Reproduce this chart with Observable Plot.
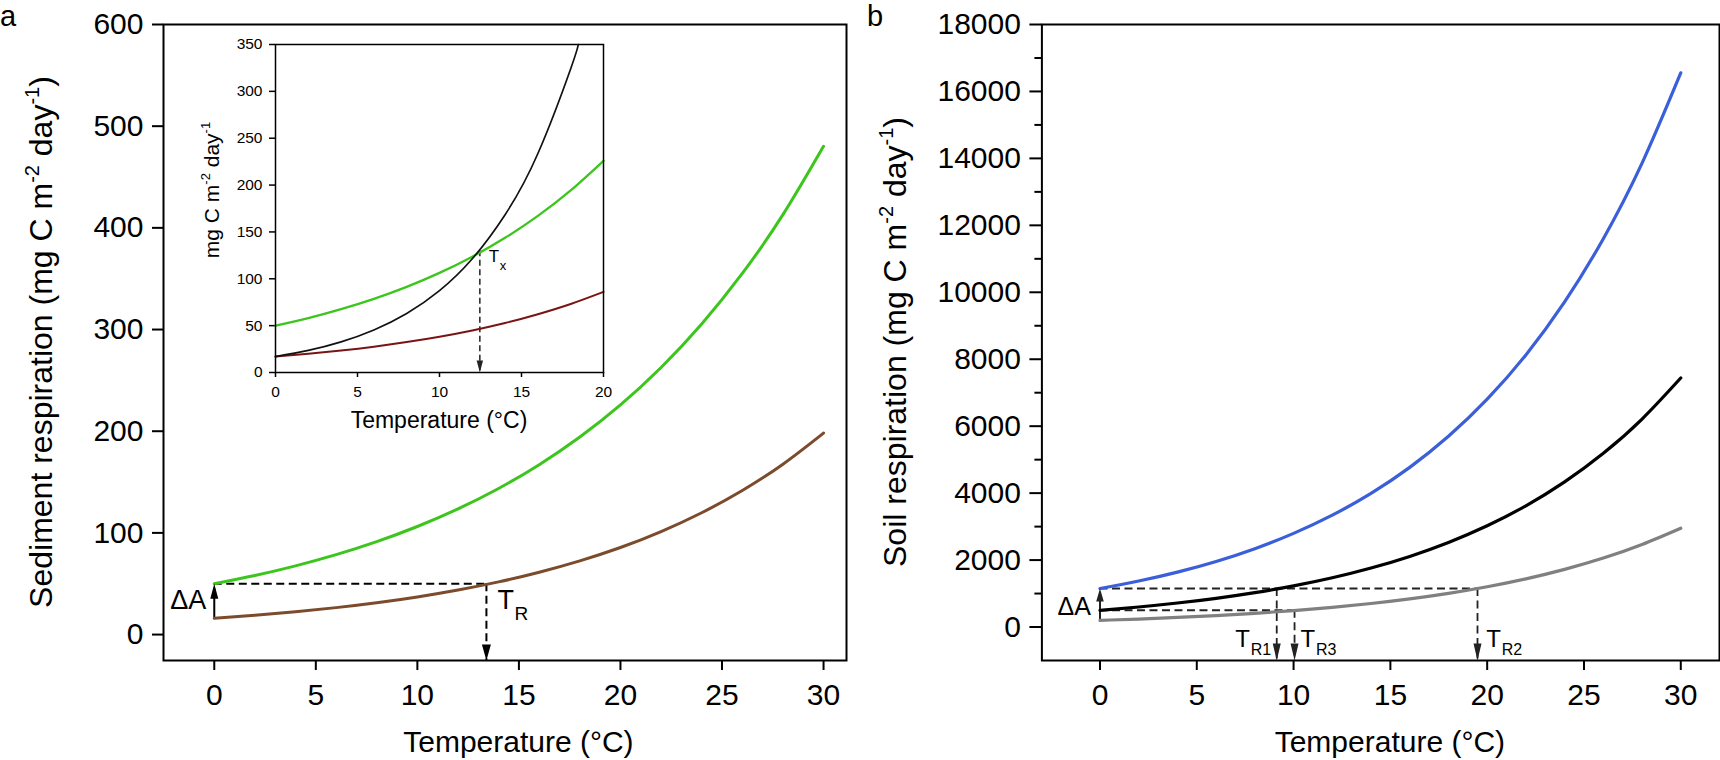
<!DOCTYPE html>
<html>
<head>
<meta charset="utf-8">
<script src="https://cdn.jsdelivr.net/npm/d3@7"></script>
<script src="https://cdn.jsdelivr.net/npm/@observablehq/plot@0.6"></script>
<style>
  body { margin: 0; background: #ffffff; }
  #fig { position: relative; width: 1720px; height: 760px; overflow: hidden; background: #ffffff;
         font-family: "Liberation Sans", Arial, Helvetica, sans-serif; }
  #fig svg { position: absolute; }
</style>
</head>
<body>
<div id="fig"></div>
<script>
// ---------------- data ----------------
// Panel a: sediment respiration (mg C m-2 day-1) vs temperature (°C)
const temps = [0, 2, 4, 6, 8, 10, 12, 14, 16, 18, 20, 22, 24, 26, 28, 30];
const sedGreen = [50, 58.1, 67.6, 78.6, 91.4, 106.3, 123.6, 143.7, 167.1, 194.3, 225.9, 262.7, 305.5, 355.2, 413.0, 480.3];
const sedBrown = [16, 18.9, 22.4, 26.5, 31.3, 37.0, 43.8, 51.8, 61.3, 72.5, 85.6, 101.3, 119.8, 141.7, 167.6, 198.2];

// Inset of panel a
const insetTemps = [0, 2, 4, 6, 8, 10, 12, 14, 16, 18, 20];
const insetGreen = [50, 58.1, 67.6, 78.6, 91.4, 106.3, 123.6, 143.7, 167.1, 194.3, 225.9];
const insetRed = [17, 20.0, 23.5, 27.6, 32.5, 38.2, 44.9, 52.8, 62.2, 73.1, 86.0];
const insetBlackTemps = [0, 2, 4, 6, 8, 10, 12, 14, 16, 18, 18.46];
const insetBlack = [17, 23.6, 32.7, 45.4, 63.0, 87.4, 121.4, 168.4, 233.7, 324.2, 350];

// Panel b: soil respiration (mg C m-2 day-1) vs temperature (°C)
const soilBlue = [1150, 1374, 1641, 1960, 2342, 2798, 3342, 3992, 4769, 5697, 6806, 8130, 9712, 11602, 13859, 16556];
const soilBlack = [500, 599, 717, 858, 1027, 1230, 1472, 1763, 2110, 2527, 3025, 3621, 4336, 5191, 6214, 7440];
const soilGray = [200, 239, 286, 343, 410, 491, 587, 702, 840, 1005, 1203, 1439, 1722, 2060, 2465, 2950];

// Annotations (data units)
const deltaA_a = [16, 50];            // ΔA arrow in panel a (brown start -> green start)
const TR_a = [13.4];                   // T_R in panel a
const deltaA_b = [200, 1150];          // ΔA arrow in panel b
const levels_b = [1150, 500];          // blue start, black start
const TR_b = [9.13, 10.05, 19.5];      // T_R1, T_R3, T_R2
const TR_b_names = ["R1", "R3", "R2"];
const Tx_inset = [12.46, 130];         // crossing point in inset

// Ticks
const xTicks = [0, 5, 10, 15, 20, 25, 30];
const yTicksA = [0, 100, 200, 300, 400, 500, 600];
const yTicksB = [0, 2000, 4000, 6000, 8000, 10000, 12000, 14000, 16000, 18000];
const yMinorB = [1000, 3000, 5000, 7000, 9000, 11000, 13000, 15000, 17000];
const xTicksInset = [0, 5, 10, 15, 20];
const yTicksInset = [0, 50, 100, 150, 200, 250, 300, 350];

// ---------------- styling ----------------
const FONT = '"Liberation Sans", Arial, Helvetica, sans-serif';
const C = { green: "#3cc51d", brown: "#7b4b2c", red: "#7a1414", blue: "#3a5fd8", gray: "#808080", black: "#000000" };
const rows = (xs, ys) => xs.map((x, i) => ({ x, y: ys[i] }));
const head = (half) => ({
  draw(ctx, l) { ctx.moveTo(0, -l); ctx.lineTo(-half, 0); ctx.lineTo(half, 0); ctx.closePath(); }
});
const fig = document.getElementById("fig");

function place(svg, left, top) {
  svg.style.position = "absolute";
  svg.style.left = left + "px";
  svg.style.top = top + "px";
  svg.style.maxWidth = "none";
  fig.appendChild(svg);
}
function addText(svg, x, y, parts, size, opts = {}) {
  const t = d3.select(svg).append("text")
    .attr("x", x).attr("y", y)
    .attr("font-size", size)
    .attr("font-family", FONT)
    .attr("fill", "black")
    .attr("text-anchor", opts.anchor || "middle");
  if (opts.rotate) t.attr("transform", `rotate(${opts.rotate},${x},${y})`);
  const sup = Math.round(size * 0.62);
  const shift = Math.round(size * 0.42);
  let pending = 0;
  parts.forEach(p => {
    if (typeof p === "string") {
      const s = t.append("tspan").text(p);
      if (pending) { s.attr("dy", pending); pending = 0; }
    } else {
      t.append("tspan").attr("font-size", sup).attr("dy", -shift).text(p.sup);
      pending = shift;
    }
  });
  return t;
}

// ---------------- panel a ----------------
const yBotA = -25.5;
const pa = Plot.plot({
  width: 870, height: 760,
  marginLeft: 163, marginRight: 24, marginTop: 24, marginBottom: 100,
  x: { domain: [-2.5, 31.13] },
  y: { domain: [yBotA, 600] },
  style: { fontFamily: FONT, fontSize: "30px", color: "black", background: "transparent", overflow: "visible" },
  marks: [
    Plot.axisX({ ticks: xTicks, tickSize: 10, tickPadding: 13, strokeWidth: 2, tickFormat: "d", label: null, fontSize: 30 }),
    Plot.axisY({ ticks: yTicksA, tickSize: 11, tickPadding: 9, strokeWidth: 2, tickFormat: "d", label: null, fontSize: 30 }),
    Plot.ruleY([deltaA_a[1]], { x1: 0, x2: TR_a[0], stroke: "black", strokeWidth: 2, strokeDasharray: "8,4.5" }),
    Plot.ruleX(TR_a, { y1: deltaA_a[1], y2: yBotA, stroke: "black", strokeWidth: 2, strokeDasharray: "8,4.5" }),
    Plot.ruleX([0], { y1: deltaA_a[0], y2: deltaA_a[1] - 5, stroke: "black", strokeWidth: 2 }),
    Plot.line(rows(temps, sedBrown), { x: "x", y: "y", stroke: C.brown, strokeWidth: 3, curve: "natural" }),
    Plot.line(rows(temps, sedGreen), { x: "x", y: "y", stroke: C.green, strokeWidth: 3, curve: "natural" }),
    Plot.vector([{ x: 0, y: deltaA_a[1] }], { x: "x", y: "y", length: 15, rotate: 0, anchor: "end", shape: head(4), fill: "black", stroke: "none" }),
    Plot.vector([{ x: TR_a[0], y: yBotA }], { x: "x", y: "y", length: 16, rotate: 180, anchor: "end", shape: head(4.5), fill: "black", stroke: "none" }),
    Plot.text([{ x: 0, y: 33.4 }], { x: "x", y: "y", text: () => "ΔA", textAnchor: "end", lineAnchor: "middle", dx: -8, fontSize: 27, fill: "black" }),
    Plot.text([{ x: TR_a[0], y: 33.4 }], { x: "x", y: "y", text: () => "T", textAnchor: "start", lineAnchor: "middle", dx: 11, fontSize: 27, fill: "black" }),
    Plot.text([{ x: TR_a[0], y: 20.2 }], { x: "x", y: "y", text: () => "R", textAnchor: "start", lineAnchor: "middle", dx: 28, fontSize: 19, fill: "black" }),
    Plot.frame({ stroke: "black", strokeWidth: 2 })
  ]
});
place(pa, 0, 0);
{
  const sx = pa.scale("x");
  addText(pa, sx.apply(15), 752, ["Temperature (°C)"], 30);
  addText(pa, 52, 342, ["Sediment respiration (mg C m", { sup: "-2" }, " day", { sup: "-1" }, ")"], 32, { rotate: -90 });
  addText(pa, 0, 26, ["a"], 29, { anchor: "start" });
}

// ---------------- inset ----------------
const pi = Plot.plot({
  width: 430, height: 420,
  marginLeft: 85, marginRight: 17, marginTop: 24, marginBottom: 68,
  x: { domain: [0, 20] },
  y: { domain: [0, 350] },
  style: { fontFamily: FONT, fontSize: "15.5px", color: "black", background: "transparent", overflow: "visible" },
  marks: [
    Plot.axisX({ ticks: xTicksInset, tickSize: 5, tickPadding: 8, strokeWidth: 1.5, tickFormat: "d", label: null, fontSize: 15.5 }),
    Plot.axisY({ ticks: yTicksInset, tickSize: 6, tickPadding: 7, strokeWidth: 1.5, tickFormat: "d", label: null, fontSize: 15.5 }),
    Plot.ruleX([Tx_inset[0]], { y1: Tx_inset[1], y2: 0, stroke: "#222", strokeWidth: 1.5, strokeDasharray: "6,3.5" }),
    Plot.line(rows(insetTemps, insetRed), { x: "x", y: "y", stroke: C.red, strokeWidth: 2, curve: "natural" }),
    Plot.line(rows(insetTemps, insetGreen), { x: "x", y: "y", stroke: C.green, strokeWidth: 2.3, curve: "natural" }),
    Plot.line(rows(insetBlackTemps, insetBlack), { x: "x", y: "y", stroke: "#111", strokeWidth: 1.7, curve: "natural" }),
    Plot.vector([{ x: Tx_inset[0], y: 0 }], { x: "x", y: "y", length: 12, rotate: 180, anchor: "end", shape: head(3.2), fill: "#222", stroke: "none" }),
    Plot.text([{ x: Tx_inset[0], y: 124 }], { x: "x", y: "y", text: () => "T", textAnchor: "start", lineAnchor: "middle", dx: 9, fontSize: 17, fill: "black" }),
    Plot.text([{ x: Tx_inset[0], y: 114 }], { x: "x", y: "y", text: () => "x", textAnchor: "start", lineAnchor: "middle", dx: 20, fontSize: 13, fill: "black" }),
    Plot.frame({ stroke: "black", strokeWidth: 1.5 })
  ]
});
place(pi, 190, 20);
{
  const sx = pi.scale("x");
  addText(pi, sx.apply(10), 408, ["Temperature (°C)"], 23);
  addText(pi, 29, 170, ["mg C m", { sup: "-2" }, " day", { sup: "-1" }], 21, { rotate: -90 });
}

// ---------------- panel b ----------------
const yBotB = -1000;
const pb = Plot.plot({
  width: 860, height: 760,
  marginLeft: 181.4, marginRight: 1, marginTop: 24, marginBottom: 100,
  x: { domain: [-3, 32] },
  y: { domain: [yBotB, 18000] },
  style: { fontFamily: FONT, fontSize: "30px", color: "black", background: "transparent", overflow: "visible" },
  marks: [
    Plot.axisX({ ticks: xTicks, tickSize: 10, tickPadding: 13, strokeWidth: 2, tickFormat: "d", label: null, fontSize: 30 }),
    Plot.axisY({ ticks: yTicksB, tickSize: 12, tickPadding: 9, strokeWidth: 2, tickFormat: "d", label: null, fontSize: 30 }),
    Plot.axisY({ ticks: yMinorB, tickSize: 7, strokeWidth: 2, tickFormat: () => "", label: null }),
    Plot.ruleY([levels_b[0]], { x1: 0, x2: TR_b[2], stroke: "#222", strokeWidth: 2, strokeDasharray: "8,4.5" }),
    Plot.ruleY([levels_b[1]], { x1: 0, x2: TR_b[1], stroke: "#222", strokeWidth: 2, strokeDasharray: "8,4.5" }),
    Plot.ruleX([TR_b[0], TR_b[2]], { y1: levels_b[0], y2: yBotB, stroke: "#222", strokeWidth: 1.8, strokeDasharray: "8,4.5" }),
    Plot.ruleX([TR_b[1]], { y1: levels_b[1], y2: yBotB, stroke: "#222", strokeWidth: 1.8, strokeDasharray: "8,4.5" }),
    Plot.ruleX([0], { y1: deltaA_b[0], y2: deltaA_b[1] - 150, stroke: "#222", strokeWidth: 2 }),
    Plot.line(rows(temps, soilGray), { x: "x", y: "y", stroke: C.gray, strokeWidth: 3.2, curve: "natural" }),
    Plot.line(rows(temps, soilBlack), { x: "x", y: "y", stroke: C.black, strokeWidth: 3.2, curve: "natural" }),
    Plot.line(rows(temps, soilBlue), { x: "x", y: "y", stroke: C.blue, strokeWidth: 3.2, curve: "natural" }),
    Plot.vector([{ x: 0, y: deltaA_b[1] }], { x: "x", y: "y", length: 13, rotate: 0, anchor: "end", shape: head(3.8), fill: "#222", stroke: "none" }),
    Plot.vector(TR_b.map(t => ({ x: t, y: yBotB })), { x: "x", y: "y", length: 17, rotate: 180, anchor: "end", shape: head(4), fill: "#222", stroke: "none" }),
    Plot.text([{ x: 0, y: 600 }], { x: "x", y: "y", text: () => "ΔA", textAnchor: "end", lineAnchor: "middle", dx: -9, fontSize: 25, fill: "black" }),
    Plot.frame({ stroke: "black", strokeWidth: 2 })
  ]
});
place(pb, 860, 0);
{
  const sx = pb.scale("x"), sy = pb.scale("y");
  const tOff = [-41, 6.5, 9.2];
  TR_b.forEach((t, i) => {
    const x0 = sx.apply(t) + tOff[i];
    addText(pb, x0, sy.apply(-343) + 8.5, ["T"], 24, { anchor: "start" });
    addText(pb, x0 + 15.5, sy.apply(-687) + 5.8, [TR_b_names[i]], 16, { anchor: "start" });
  });
  addText(pb, sx.apply(15), 752, ["Temperature (°C)"], 30);
  addText(pb, 46, 342, ["Soil respiration (mg C m", { sup: "-2" }, " day", { sup: "-1" }, ")"], 32, { rotate: -90 });
  addText(pb, 7, 26, ["b"], 29, { anchor: "start" });
}
</script>
</body>
</html>
